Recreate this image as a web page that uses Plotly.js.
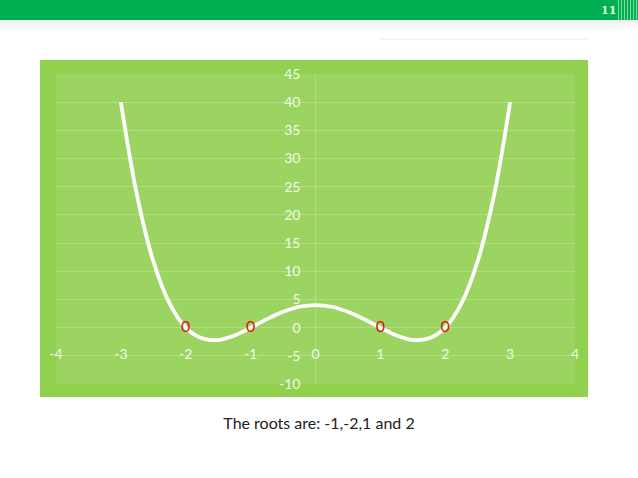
<!DOCTYPE html>
<html>
<head>
<meta charset="utf-8">
<script src="https://cdn.plot.ly/plotly-3.0.1.min.js"></script>
<style>
  html, body { margin:0; padding:0; background:#ffffff; }
  body { width:638px; height:478px; position:relative; overflow:hidden; }
  #banner { position:absolute; left:0; top:0; width:638px; height:20px; background:#00b050; }
  #stripes { position:absolute; left:616px; top:0; width:22px; height:20px;
    background: repeating-linear-gradient(90deg, #00b050 0px, #00b050 2px, #7fd89f 2px, #7fd89f 3px); }
  #shadow { position:absolute; left:0; top:20px; width:638px; height:10px;
    background: linear-gradient(#eeeeee, #ffffff); }
  #pnum { position:absolute; left:601px; top:4px; font-family:"DejaVu Serif", serif; font-size:11px; font-weight:bold; color:#e8f6ec; }
  #faint { position:absolute; left:380px; top:38px; width:210px; height:2px; background:#f5f5f5; }
  #chart { position:absolute; left:40px; top:60px; width:548px; height:337px; }
  #caption { position:absolute; left:0; width:638px; top:413px; text-align:center;
    font-family:Lato, "Open Sans", sans-serif; font-size:16px; color:#222222; }
</style>
</head>
<body>
<div id="banner"></div>
<div id="stripes"></div>
<div id="shadow"></div>
<div id="faint"></div>
<div id="pnum">11</div>
<div id="chart"></div>
<div id="caption">The roots are: -1,-2,1 and 2</div>
<script>
// Curve values
const xValues = [-3, -2.75, -2.5, -2.25, -2, -1.75, -1.5, -1.25, -1, -0.75, -0.5, -0.25, 0,
                 0.25, 0.5, 0.75, 1, 1.25, 1.5, 1.75, 2, 2.25, 2.5, 2.75, 3];
const yValues = [40, 23.4, 11.8, 4.3, 0, -1.9, -2.2, -1.4, 0, 1.5, 2.8, 3.7, 4,
                 3.7, 2.8, 1.5, 0, -1.4, -2.2, -1.9, 0, 4.3, 11.8, 23.4, 40];
// Root labels
const rootX = [-2, -1, 1, 2];
const rootY = [0, 0, 0, 0];
const rootText = ["0", "0", "0", "0"];
// Tick labels
const xTicks = [-4, -3, -2, -1, 0, 1, 2, 3, 4];
const yTicks = [-10, -5, 0, 5, 10, 15, 20, 25, 30, 35, 40, 45];

const gridColor = "rgba(255,255,255,0.22)";
const tickFont = { family: "Lato, 'Open Sans', sans-serif", size: 14, color: "rgba(255,255,255,0.88)" };

const traces = [
  {
    x: xValues, y: yValues, type: "scatter", mode: "lines",
    line: { color: "#ffffff", width: 3.75, shape: "spline", smoothing: 1 },
    hoverinfo: "skip", showlegend: false
  },
  {
    x: rootX, y: rootY, type: "scatter", mode: "text",
    text: rootText, textposition: "middle center",
    textfont: { family: "Lato, 'Open Sans', sans-serif", size: 16, color: "#e0101a" },
    hoverinfo: "skip", showlegend: false
  }
];

const layout = {
  width: 548, height: 337,
  margin: { l: 16, r: 13, t: 14, b: 13, pad: 0 },
  paper_bgcolor: "#92d050",
  plot_bgcolor: "#9cd462",
  showlegend: false,
  xaxis: {
    range: [-4, 4], tickvals: xTicks, ticktext: xTicks.map(String),
    showgrid: false, zeroline: true, zerolinecolor: gridColor, zerolinewidth: 1,
    showline: false, ticks: "", tickfont: tickFont,
    anchor: "free", position: 10 / 55, ticklabelstandoff: 16, fixedrange: true
  },
  yaxis: {
    range: [-10, 45], tickvals: yTicks, ticktext: yTicks.map(String),
    showgrid: true, gridcolor: gridColor, gridwidth: 1,
    zeroline: true, zerolinecolor: gridColor, zerolinewidth: 1,
    showline: false, ticks: "", tickfont: tickFont,
    anchor: "free", position: 0.5, ticklabelstandoff: 15, fixedrange: true
  }
};

Plotly.newPlot("chart", traces, layout, { displayModeBar: false, staticPlot: true });
</script>
</body>
</html>
